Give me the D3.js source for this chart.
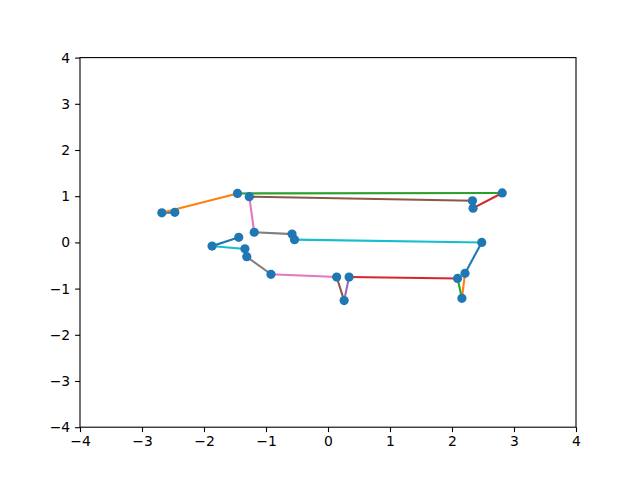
<!DOCTYPE html>
<html>
<head>
<meta charset="utf-8">
<script src="https://cdn.jsdelivr.net/npm/d3@7"></script>
<style>
  html, body { margin: 0; padding: 0; background: #fff; }
  svg { display: block; }
  text { font-family: "DejaVu Sans", sans-serif; }
</style>
</head>
<body>
<svg id="chart" width="640" height="480"></svg>
<script>
// Path points, in drawing order
const xs = [-2.47, -2.68, -1.46, 2.81, 2.34, 2.33, -1.27, -1.19, -0.58, -0.54, 2.48, 2.21, 2.16, 2.09, 0.34, 0.26, 0.14, -0.92, -1.31, -1.34, -1.87, -1.44];
const ys = [0.65, 0.64, 1.06, 1.07, 0.74, 0.90, 0.99, 0.22, 0.18, 0.06, 0.00, -0.67, -1.21, -0.78, -0.75, -1.26, -0.75, -0.69, -0.31, -0.14, -0.08, 0.11];
const xTicks = [-4, -3, -2, -1, 0, 1, 2, 3, 4];
const yTicks = [-4, -3, -2, -1, 0, 1, 2, 3, 4];
const segColors = ["#1f77b4", "#ff7f0e", "#2ca02c", "#d62728", "#9467bd", "#8c564b", "#e377c2", "#7f7f7f", "#bcbd22", "#17becf"];

const svg = d3.select("#chart");
const M = { left: 80, right: 576, top: 57.6, bottom: 427.2 };
const x = d3.scaleLinear().domain([-4, 4]).range([M.left, M.right]);
const y = d3.scaleLinear().domain([-4, 4]).range([M.bottom, M.top]);
const fmt = d => (d < 0 ? "\u2212" + Math.abs(d) : String(d));

const pts = xs.map((v, i) => [v, ys[i]]);
const segs = d3.range(pts.length - 1).map(i => ({ a: pts[i], b: pts[i + 1], c: segColors[i % segColors.length] }));

svg.append("g").selectAll("line").data(segs).join("line")
  .attr("x1", d => x(d.a[0])).attr("y1", d => y(d.a[1]))
  .attr("x2", d => x(d.b[0])).attr("y2", d => y(d.b[1]))
  .attr("stroke", d => d.c).attr("stroke-width", 2.08).attr("stroke-linecap", "square");

svg.append("g").selectAll("circle").data(pts).join("circle")
  .attr("cx", d => x(d[0])).attr("cy", d => y(d[1])).attr("r", 4.6)
  .attr("fill", "#1f77b4");

// Frame
svg.append("rect").attr("x", M.left).attr("y", M.top).attr("width", M.right - M.left).attr("height", M.bottom - M.top)
  .attr("fill", "none").attr("stroke", "#000").attr("stroke-width", 1.1);

const xAxis = d3.axisBottom(x).tickValues(xTicks).tickFormat(fmt).tickSizeOuter(0).tickSizeInner(4.9).tickPadding(3.6);
const yAxis = d3.axisLeft(y).tickValues(yTicks).tickFormat(fmt).tickSizeOuter(0).tickSizeInner(4.9).tickPadding(4.9);

const gx = svg.append("g").attr("transform", `translate(0,${M.bottom})`).call(xAxis);
const gy = svg.append("g").attr("transform", `translate(${M.left},0)`).call(yAxis);
[gx, gy].forEach(g => {
  g.select(".domain").remove();
  g.selectAll(".tick line").attr("stroke", "#000").attr("stroke-width", 1.1);
  g.selectAll(".tick text").attr("fill", "#000").style("font-size", "13.9px").style("font-family", "DejaVu Sans, sans-serif");
});
</script>
</body>
</html>
